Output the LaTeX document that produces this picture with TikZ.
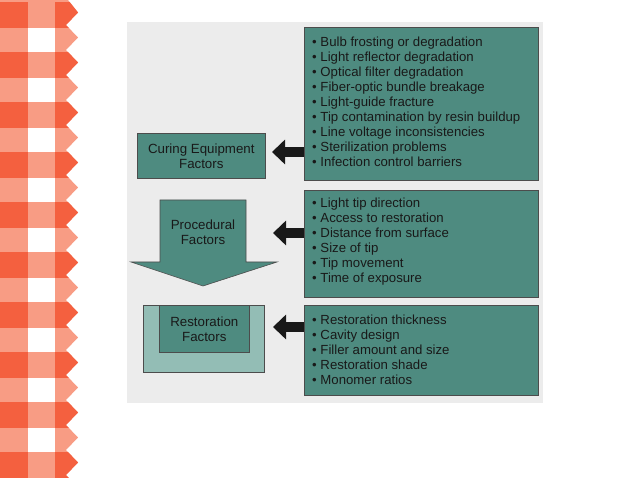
\documentclass[tikz,border=0pt]{standalone}
\usepackage{fontspec}
\setmainfont{Liberation Sans}
\usetikzlibrary{arrows.meta}
\definecolor{bg}{HTML}{ECECEC}
\definecolor{teal}{HTML}{4E8B80}
\definecolor{lteal}{HTML}{93BDB5}
\definecolor{dred}{HTML}{F4603F}
\definecolor{sal}{HTML}{F89C84}
\tikzset{
 box/.style={draw=black!70,fill=teal,line width=0.6pt},
 list/.style={anchor=north west,align=left,font=\fontsize{13.2}{15}\selectfont,inner sep=0pt,text=black!90},
 lbl/.style={align=center,font=\fontsize{13.3}{15}\selectfont,text=black!90},
 barrow/.style={-{Triangle[length=13pt,width=24pt]},line width=10pt,black!90}
}
\begin{document}
\begin{tikzpicture}[x=1pt,y=-1pt]
\useasboundingbox (0,0) rectangle (638,478);
\fill[white] (0,0) rectangle (638,478);
% checker stripe
\begin{scope}
\clip (0,0) -- (68,0) \foreach \i in {0,...,19}{ -- (78,{\i*25+12.5}) -- (66,{\i*25+25})} -- (0,478) -- cycle;
\fill[sal] (0,0) rectangle (80,478);
\foreach \r in {0,...,9}{
 \fill[white] (28,{\r*50+28}) rectangle (55,{\r*50+52});
 \fill[dred] (0,{\r*50+2}) rectangle (28,{\r*50+28});
 \fill[dred] (55,{\r*50+2}) rectangle (80,{\r*50+28});
}
\end{scope}
% figure background
\fill[bg] (127,22) rectangle (543,403);
% boxes
\node[box,minimum width=234,minimum height=153,anchor=north west] (top) at (304,27) {};
\node[box,minimum width=234,minimum height=107,anchor=north west] (mid) at (304,190) {};
\node[box,minimum width=234,minimum height=90,anchor=north west] (bot) at (304,305) {};
\node[list] (tl) at (312,37) {• Bulb frosting or degradation\\• Light reflector degradation\\• Optical filter degradation\\• Fiber-optic bundle breakage\\• Light-guide fracture\\• Tip contamination by resin buildup\\• Line voltage inconsistencies\\• Sterilization problems\\• Infection control barriers};
\node[list] (ml) at (312,198) {• Light tip direction\\• Access to restoration\\• Distance from surface\\• Size of tip\\• Tip movement\\• Time of exposure};
\node[list] (bl) at (312,315) {• Restoration thickness\\• Cavity design\\• Filler amount and size\\• Restoration shade\\• Monomer ratios};
% left items
\node[box,minimum width=128,minimum height=45,anchor=north west] (cur) at (137,133) {};
\node[lbl] at (cur) {Curing Equipment\\Factors};
\draw[draw=black!70,fill=teal,line width=0.6pt] (160,200) -- (246,200) -- (246,262) -- (277,262) -- (203,286) -- (131,262) -- (160,262) -- cycle;
\node[lbl] (proc) at (203,232) {Procedural\\Factors};
\node[draw=black!70,fill=lteal,line width=0.6pt,minimum width=121,minimum height=67,anchor=north west] (rout) at (143,305) {};
\node[box,minimum width=90,minimum height=47,anchor=north west] (rin) at (159,305) {};
\node[lbl] at (rin) {Restoration\\Factors};
% arrows
\draw[barrow] (top.west |- 0,152) -- (272,152);
\draw[barrow] (mid.west |- 0,233) -- (273,233);
\draw[barrow] (bot.west |- 0,327) -- (273,327);
\end{tikzpicture}
\end{document}
